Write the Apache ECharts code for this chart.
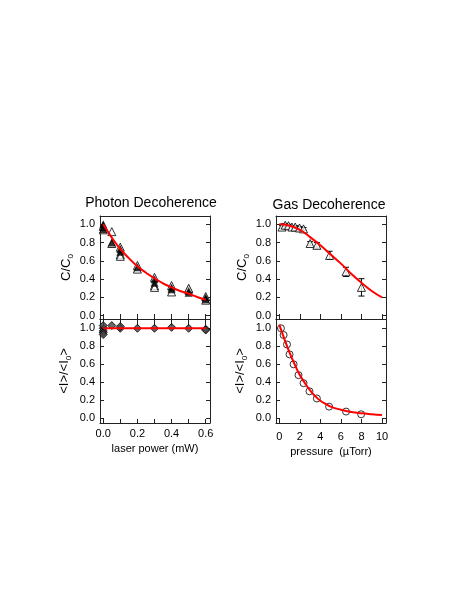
<!DOCTYPE html>
<html><head><meta charset="utf-8">
<script src="https://cdn.jsdelivr.net/npm/echarts@6/dist/echarts.min.js"></script>
<style>html,body{margin:0;padding:0;background:#fff}#c{width:468px;height:605px}</style>
</head><body><div id="c"></div>
<script>
// ---- text ----
const photonTitle = 'Photon Decoherence';
const gasTitle = 'Gas Decoherence';
const photonXName = 'laser power (mW)';
const gasXName = 'pressure  (\u00b5Torr)';

// ---- ticks ----
const photonXLabels = [0, 0.2, 0.4, 0.6];
const photonXTicks = [0, 0.1, 0.2, 0.3, 0.4, 0.5, 0.6];
const gasXLabels = [0, 2, 4, 6, 8, 10];
const gasXTicks = [0, 2, 4, 6, 8, 10];
const yLabels = [0, 0.2, 0.4, 0.6, 0.8, 1.0];

// ---- photon decoherence: contrast C/C0 ----
const photonContrastFilled = [[0,1.00],[0,0.97],[0,0.95],[0.05,0.80],[0.1,0.73],[0.1,0.70],[0.2,0.53],[0.3,0.40],[0.3,0.36],[0.4,0.31],[0.4,0.29],[0.5,0.27],[0.5,0.25],[0.6,0.20],[0.6,0.18]];
const photonContrastOpen = [[0,0.98],[0,0.94],[0.05,0.92],[0.05,0.79],[0.1,0.75],[0.1,0.67],[0.1,0.65],[0.2,0.55],[0.2,0.51],[0.3,0.42],[0.3,0.33],[0.3,0.31],[0.4,0.33],[0.4,0.26],[0.5,0.29],[0.5,0.30],[0.6,0.21],[0.6,0.17]];
const photonContrastFit = [[0,1.0],[0.05,0.855],[0.1,0.73],[0.15,0.63],[0.2,0.54],[0.25,0.47],[0.3,0.41],[0.35,0.355],[0.4,0.31],[0.45,0.27],[0.5,0.24],[0.55,0.205],[0.6,0.175]];

// ---- photon decoherence: intensity <I>/<I0> ----
const photonIntensity = [[0,1.00],[0,0.97],[0,0.95],[0,0.93],[0,1.03],[0.05,1.03],[0.1,1.00],[0.1,1.02],[0.2,1.00],[0.3,1.00],[0.4,1.01],[0.5,1.00],[0.6,0.99],[0.6,0.98]];
const photonIntensityFit = [[0,1.0],[0.6,1.0]];

// ---- gas decoherence: contrast C/C0 with error ----
const gasContrast = [[0.26,0.97,0.015],[0.58,0.99,0.015],[0.9,0.985,0.015],[1.23,0.97,0.015],[1.55,0.97,0.015],[1.97,0.96,0.015],[2.36,0.95,0.015],[3.0,0.79,0.02],[3.66,0.77,0.03],[4.9,0.66,0.045],[6.5,0.48,0.05],[8.0,0.31,0.095]];
const gasContrastFit = [[0,1.0],[1,0.985],[2,0.94],[3,0.86],[4,0.77],[5,0.67],[6,0.57],[7,0.46],[8,0.36],[9,0.27],[10,0.20]];

// ---- gas decoherence: intensity ----
const gasIntensity = [[0.16,1.00],[0.42,0.925],[0.75,0.82],[1.0,0.71],[1.39,0.60],[1.87,0.48],[2.36,0.39],[2.94,0.30],[3.66,0.22],[4.85,0.13],[6.5,0.075],[7.97,0.045]];
const gasIntensityFit = [[0,1.04],[0.5,0.88],[1.0,0.73],[1.5,0.60],[2.0,0.48],[2.5,0.39],[3.0,0.31],[3.5,0.245],[4.0,0.195],[4.5,0.16],[5.0,0.13],[6.0,0.095],[7.0,0.07],[8.0,0.055],[9.0,0.045],[10,0.037]];

const FONT = '"Liberation Sans", Arial, Helvetica, sans-serif';
const AX = '#222';
const fmt1 = v => v.toFixed(1);
const fmt0 = v => String(Math.round(v));

const grids = [
  {left:100, top:216, width:110, height:103},
  {left:100, top:319, width:110, height:104},
  {left:276, top:216, width:110, height:103},
  {left:276, top:319, width:110, height:104}
];
const xRange = [[-0.019,0.625],[-0.019,0.625],[-0.32,10.39],[-0.32,10.39]];
const yRange = [[-0.036,1.091],[-0.052,1.103],[-0.036,1.091],[-0.052,1.103]];

function rich(main, sub, tail){
  return '{a|' + main + '}{s|' + sub + '}' + (tail ? '{a|' + tail + '}' : '');
}
const nameRich = {
  a:{fontSize:13, fontFamily:FONT, color:'#000', lineHeight:15},
  s:{fontSize:8, fontFamily:FONT, color:'#000', lineHeight:15, padding:[8,0,0,0]}
};

const xAxis = [];
const yAxis = [];
for (let i = 0; i < 4; i++) {
  const isPhoton = i < 2;
  const isLower = i % 2 === 1;
  const ticks = isPhoton ? photonXTicks : gasXTicks;
  const labels = isPhoton ? photonXLabels : gasXLabels;
  xAxis.push({
    type:'value', gridIndex:i, position:'bottom', min:xRange[i][0], max:xRange[i][1],
    axisLine:{show:true, onZero:false, lineStyle:{color:AX, width:1}},
    axisTick:{show:true, inside:true, length: isLower ? 4 : 5, customValues:ticks, lineStyle:{color:AX}},
    axisLabel:{show:isLower, customValues:labels, formatter: isPhoton ? fmt1 : fmt0,
      fontSize:11, fontFamily:FONT, color:'#000', margin: isPhoton ? 5 : 8},
    splitLine:{show:false},
    name: isLower ? (isPhoton ? photonXName : gasXName) : '',
    nameLocation:'middle', nameGap: isPhoton ? 20 : 23,
    nameTextStyle:{fontSize:11, fontFamily:FONT, color:'#000'}
  });
}
for (let i = 0; i < 4; i++) {
  const isPhoton = i < 2;
  const isLower = i % 2 === 1;
  xAxis.push({
    type:'value', gridIndex:i, position:'top', min:xRange[i][0], max:xRange[i][1],
    axisLine:{show:true, onZero:false, lineStyle:{color:AX, width:1}},
    axisTick:{show: isLower && isPhoton, inside:true, length:7, customValues:photonXTicks, lineStyle:{color:AX}},
    axisLabel:{show:false}, splitLine:{show:false}
  });
}
for (let i = 0; i < 4; i++) {
  const isLower = i % 2 === 1;
  yAxis.push({
    type:'value', gridIndex:i, position:'left', min:yRange[i][0], max:yRange[i][1],
    axisLine:{show:true, onZero:false, lineStyle:{color:AX, width:1}},
    axisTick:{show:true, inside:true, length:4, customValues:yLabels, lineStyle:{color:AX}},
    axisLabel:{show:true, customValues:yLabels, formatter:fmt1, fontSize:11, fontFamily:FONT, color:'#000', margin:5},
    splitLine:{show:false},
    name: isLower ? rich('<I>/<I', '0', '>') : rich('C/C', '0'),
    nameLocation:'middle', nameRotate:90, nameGap: isLower ? 28 : 26,
    nameTextStyle:{rich:nameRich}
  });
}
for (let i = 0; i < 4; i++) {
  yAxis.push({
    type:'value', gridIndex:i, position:'right', min:yRange[i][0], max:yRange[i][1],
    axisLine:{show:true, onZero:false, lineStyle:{color:AX, width:1}},
    axisTick:{show:true, inside:true, length:4, customValues:yLabels, lineStyle:{color:AX}},
    axisLabel:{show:false}, splitLine:{show:false}
  });
}

const errorBars = {
  type:'custom', xAxisIndex:2, yAxisIndex:2, data:gasContrast, z:3,
  renderItem:function(params, api){
    const x = api.value(0), y = api.value(1), e = api.value(2);
    const hi = api.coord([x, y + e]);
    const lo = api.coord([x, y - e]);
    const cap = 3;
    const st = {stroke:'#000', lineWidth:1};
    return {type:'group', children:[
      {type:'line', shape:{x1:hi[0], y1:hi[1], x2:lo[0], y2:lo[1]}, style:st},
      {type:'line', shape:{x1:hi[0]-cap, y1:hi[1], x2:hi[0]+cap, y2:hi[1]}, style:st},
      {type:'line', shape:{x1:lo[0]-cap, y1:lo[1], x2:lo[0]+cap, y2:lo[1]}, style:st}
    ]};
  }
};

const openStyle = {color:'#fff', borderColor:'#000', borderWidth:1};
const red = '#ff0000';

const option = {
  animation:false,
  backgroundColor:'#fff',
  title:[
    {text:photonTitle, left:151, top:196, textAlign:'center', padding:0,
     textStyle:{fontSize:14, fontWeight:'normal', fontFamily:FONT, color:'#000'}},
    {text:gasTitle, left:329, top:198, textAlign:'center', padding:0,
     textStyle:{fontSize:14, fontWeight:'normal', fontFamily:FONT, color:'#000'}}
  ],
  grid:grids,
  xAxis:xAxis,
  yAxis:yAxis,
  series:[
    {type:'scatter', xAxisIndex:0, yAxisIndex:0, data:photonContrastOpen, symbol:'triangle', symbolSize:8, itemStyle:openStyle, z:3},
    {type:'scatter', xAxisIndex:0, yAxisIndex:0, data:photonContrastFilled, symbol:'triangle', symbolSize:8, itemStyle:{color:'#000'}, z:3},
    {type:'line', xAxisIndex:0, yAxisIndex:0, data:photonContrastFit, smooth:true, showSymbol:false, lineStyle:{color:red, width:2}, z:5},

    {type:'scatter', xAxisIndex:1, yAxisIndex:1, data:photonIntensity, symbol:'diamond', symbolSize:8, itemStyle:{color:'#444', borderColor:'#000', borderWidth:1}, z:3},
    {type:'line', xAxisIndex:1, yAxisIndex:1, data:photonIntensityFit, showSymbol:false, lineStyle:{color:red, width:2}, z:5},

    errorBars,
    {type:'scatter', xAxisIndex:2, yAxisIndex:2, data:gasContrast, symbol:'triangle', symbolSize:8, itemStyle:openStyle, z:4},
    {type:'line', xAxisIndex:2, yAxisIndex:2, data:gasContrastFit, smooth:true, showSymbol:false, lineStyle:{color:red, width:2}, z:5},

    {type:'scatter', xAxisIndex:3, yAxisIndex:3, data:gasIntensity, symbol:'circle', symbolSize:7, itemStyle:openStyle, z:3},
    {type:'line', xAxisIndex:3, yAxisIndex:3, data:gasIntensityFit, smooth:true, showSymbol:false, lineStyle:{color:red, width:2}, z:5}
  ]
};
const chart = echarts.init(document.getElementById('c'), null, {renderer:'canvas'});
chart.setOption(option);
</script>
</body></html>
